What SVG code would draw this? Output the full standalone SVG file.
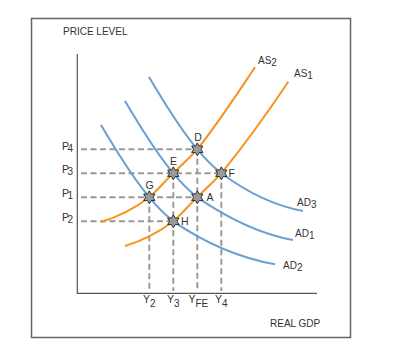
<svg xmlns="http://www.w3.org/2000/svg" width="397" height="364" viewBox="0 0 397 364">
<style>
text{font-family:"Liberation Sans",Arial,sans-serif;fill:#333;}
.lbl{font-size:10px;}
.sub{font-size:10px;}
.pt{font-size:10.5px;}
.dash{stroke:#999;stroke-width:2;stroke-dasharray:6,3.5;fill:none;}
.as{stroke:#F7941D;stroke-width:2;fill:none;}
.ad{stroke:#6A9FD4;stroke-width:2;fill:none;}
.ax{stroke:#555;stroke-width:1.2;fill:none;}
</style>
<defs>
<polygon id="star" points="0,-6.5 1.88,-3.25 5.63,-3.25 3.75,0 5.63,3.25 1.88,3.25 0,6.5 -1.88,3.25 -5.63,3.25 -3.75,0 -5.63,-3.25 -1.88,-3.25" fill="#9a9a9a" stroke="#333" stroke-width="1"/>
</defs>
<rect x="31.5" y="18.5" width="319" height="319" fill="#fff" stroke="#666" stroke-width="1.5"/>
<g id="axes">
<path class="ax" d="M77.3,54 V293.3 H317"/>
<text class="lbl" x="63" y="35">PRICE LEVEL</text>
<text class="lbl" x="270" y="327">REAL GDP</text>
</g>
<g id="connectors">
<path class="dash" d="M81,149.3 H197 M81,173.3 H221 M81,197.3 H197 M81,221.3 H173"/>
<path class="dash" d="M149.3,197.3 V291 M173.3,173.3 V291 M197.3,149.3 V291 M221.3,173.3 V291"/>
</g>
<g id="AD2">
<path class="ad" d="M101,125 C117,152.2 133,177.8 149.3,197.3 C157,206.6 165,214.6 173.3,221.3 C205,243 241,258 275,264.3"/>
<text class="lbl" x="283" y="269">AD<tspan class="sub" dy="2">2</tspan></text>
</g>
<g id="AD1">
<path class="ad" d="M125,101 C141,128.2 157,153.8 173.3,173.3 C181,182.6 189,190.6 197.3,197.3 C229,219 260,234 293,240"/>
<text class="lbl" x="295" y="236.5">AD<tspan class="sub" dy="2">1</tspan></text>
</g>
<g id="AD3">
<path class="ad" d="M149,77 C165,104.2 181,129.8 197.3,149.3 C205,158.6 213,166.6 221.3,173.3 C248,193 275,206 303,211"/>
<text class="lbl" x="297" y="206">AD<tspan class="sub" dy="2">3</tspan></text>
</g>
<g id="AS1">
<path class="as" d="M125,246 C141,241.2 157,233.8 173.3,221.3 C181,214.6 189,205 197.3,197.3 C205,189 213,182.6 221.3,173.3 C243.3,146.2 265.7,115.5 288.3,81.7"/>
<text class="lbl" x="294" y="77">AS<tspan class="sub" dy="2">1</tspan></text>
</g>
<g id="AS2">
<path class="as" d="M101,222 C117,217.2 133,209.8 149.3,197.3 C157,190.6 165,181 173.3,173.3 C181,165 189,158.6 197.3,149.3 C216.3,125.8 235.7,96 255,67.3"/>
<text class="lbl" x="258" y="64">AS<tspan class="sub" dy="2">2</tspan></text>
</g>
<g id="P-labels">
<text class="pt" x="62" y="149.5">P<tspan class="sub" dx="-1.5" dy="2">4</tspan></text>
<text class="pt" x="62" y="173">P<tspan class="sub" dx="-1.5" dy="2">3</tspan></text>
<text class="pt" x="62" y="197">P<tspan class="sub" dx="-1.5" dy="2">1</tspan></text>
<text class="pt" x="62" y="221">P<tspan class="sub" dx="-1.5" dy="2">2</tspan></text>
</g>
<g id="Y-labels">
<text class="pt" x="143" y="303">Y<tspan class="sub" dy="4">2</tspan></text>
<text class="pt" x="167" y="303">Y<tspan class="sub" dy="4">3</tspan></text>
<text class="pt" x="188.5" y="303">Y<tspan class="sub" dy="4">FE</tspan></text>
<text class="pt" x="215" y="303">Y<tspan class="sub" dy="4">4</tspan></text>
</g>
<g id="D"><use href="#star" x="197.3" y="149.3"/><text class="pt" x="198" y="141" text-anchor="middle">D</text></g>
<g id="E"><use href="#star" x="173.3" y="173.3"/><text class="pt" x="173.5" y="165" text-anchor="middle">E</text></g>
<g id="F"><use href="#star" x="221.3" y="173.3"/><text class="pt" x="228.5" y="177">F</text></g>
<g id="G"><use href="#star" x="149.3" y="197.3"/><text class="pt" x="149.5" y="189" text-anchor="middle">G</text></g>
<g id="A"><use href="#star" x="197.3" y="197.3"/><text class="pt" x="206.5" y="201">A</text></g>
<g id="H"><use href="#star" x="173.3" y="221.3"/><text class="pt" x="181" y="225">H</text></g>
</svg>
